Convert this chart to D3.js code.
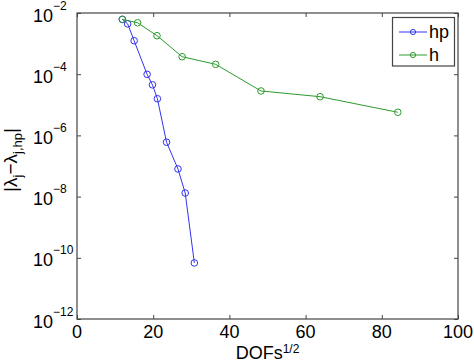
<!DOCTYPE html>
<html><head><meta charset="utf-8">
<script src="https://cdn.jsdelivr.net/npm/d3@7"></script>
<style>
html,body{margin:0;padding:0;background:#fff;}
svg{display:block;font-family:"Liberation Sans",Arial,Helvetica,sans-serif;}
</style></head>
<body><svg id="c" width="474" height="364"></svg>
<script>
const dofsHp = [11.9, 13.3, 15.0, 18.4, 19.8, 21.1, 23.5, 26.5, 28.4, 30.8];
const errHp  = [6.2e-3, 4.4e-3, 1.24e-3, 9.9e-5, 4.5e-5, 1.58e-5, 6.0e-7, 8.0e-8, 1.31e-8, 6.8e-11];
const dofsH  = [11.9, 15.9, 21.0, 27.6, 36.4, 48.3, 63.8, 84.2];
const errH   = [6.2e-3, 4.8e-3, 1.81e-3, 3.73e-4, 2.1e-4, 2.83e-5, 1.84e-5, 5.7e-6];
const xTicks = [0, 20, 40, 60, 80, 100];
const yTickExps = [-2, -4, -6, -8, -10, -12];
const seriesNames = ["hp", "h"];
const seriesColors = ["#3333ee", "#2e9a2e"];

const L = 77, R = 458, T = 13, B = 319;
const svg = d3.select("#c");
const x = d3.scaleLinear().domain([0, 100]).range([L, R]);
const y = d3.scaleLog().domain([1e-12, 1e-2]).range([B, T]);
const axisColor = "#444";

// frame
svg.append("rect").attr("x", L).attr("y", T).attr("width", R - L).attr("height", B - T)
  .attr("fill", "#fff").attr("stroke", axisColor).attr("stroke-width", 1.2);

const yVals = yTickExps.map(e => Math.pow(10, e));
function styleAxis(g) {
  g.select(".domain").remove();
  g.selectAll(".tick line").attr("stroke", axisColor).attr("stroke-width", 1);
}
svg.append("g").attr("transform", `translate(0,${B})`)
  .call(d3.axisBottom(x).tickValues(xTicks).tickSize(-4).tickFormat(""))
  .call(styleAxis);
svg.append("g").attr("transform", `translate(0,${T})`)
  .call(d3.axisTop(x).tickValues(xTicks).tickSize(-4).tickFormat(""))
  .call(styleAxis);
svg.append("g").attr("transform", `translate(${L},0)`)
  .call(d3.axisLeft(y).tickValues(yVals).tickSize(-4).tickFormat(""))
  .call(styleAxis);
svg.append("g").attr("transform", `translate(${R},0)`)
  .call(d3.axisRight(y).tickValues(yVals).tickSize(-4).tickFormat(""))
  .call(styleAxis);

// x tick labels
svg.append("g").selectAll("text").data(xTicks).join("text")
  .attr("x", d => x(d)).attr("y", 338).attr("text-anchor", "middle")
  .attr("font-size", 18).attr("fill", "#000").text(d => d);

// y tick labels
const yl = svg.append("g").selectAll("text").data(yTickExps).join("text")
  .attr("x", 33).attr("y", d => y(Math.pow(10, d)) + 8.5)
  .attr("font-size", 18).attr("fill", "#000");
yl.append("tspan").text("10");
yl.append("tspan").attr("font-size", 12).attr("dy", -12).text(d => "\u2212" + (-d));

// x label
const xl = svg.append("text").attr("x", 267.5).attr("y", 359).attr("text-anchor", "middle")
  .attr("font-size", 18).attr("fill", "#000");
xl.append("tspan").text("DOFs");
xl.append("tspan").attr("font-size", 12).attr("dy", -6).text("1/2");

// y label
const ylab = svg.append("text").attr("transform", "translate(17,160) rotate(-90)")
  .attr("text-anchor", "middle").attr("font-size", 19).attr("fill", "#000");
ylab.append("tspan").text("|\u03bb");
ylab.append("tspan").attr("font-size", 13).attr("dy", 5).text("j");
ylab.append("tspan").attr("dy", -5).text("\u2212\u03bb");
ylab.append("tspan").attr("font-size", 13).attr("dy", 5).text("j,hp");
ylab.append("tspan").attr("dy", -5).text("|");

// series
const series = [
  dofsHp.map((d, i) => [d, errHp[i]]),
  dofsH.map((d, i) => [d, errH[i]])
];
const line = d3.line().x(d => x(d[0])).y(d => y(d[1]));
series.forEach((s, k) => {
  const g = svg.append("g");
  g.append("path").datum(s).attr("d", line).attr("fill", "none")
    .attr("stroke", seriesColors[k]).attr("stroke-width", 1);
  g.selectAll("circle").data(s).join("circle")
    .attr("cx", d => x(d[0])).attr("cy", d => y(d[1])).attr("r", 3.3)
    .attr("fill", "none").attr("stroke", seriesColors[k]).attr("stroke-width", 1);
});

// legend
const lg = svg.append("g");
lg.append("rect").attr("x", 392.5).attr("y", 17.5).attr("width", 62).attr("height", 48.5)
  .attr("fill", "#fff").attr("stroke", axisColor).attr("stroke-width", 1.2);
seriesNames.forEach((n, k) => {
  const cy = 32 + k * 23;
  lg.append("line").attr("x1", 399).attr("x2", 427).attr("y1", cy).attr("y2", cy)
    .attr("stroke", seriesColors[k]).attr("stroke-width", 1);
  lg.append("circle").attr("cx", 413).attr("cy", cy).attr("r", 2.6)
    .attr("fill", "none").attr("stroke", seriesColors[k]).attr("stroke-width", 1);
  lg.append("text").attr("x", 429).attr("y", cy + 5.5).attr("font-size", 18).attr("fill", "#000").text(n);
});
</script></body></html>
